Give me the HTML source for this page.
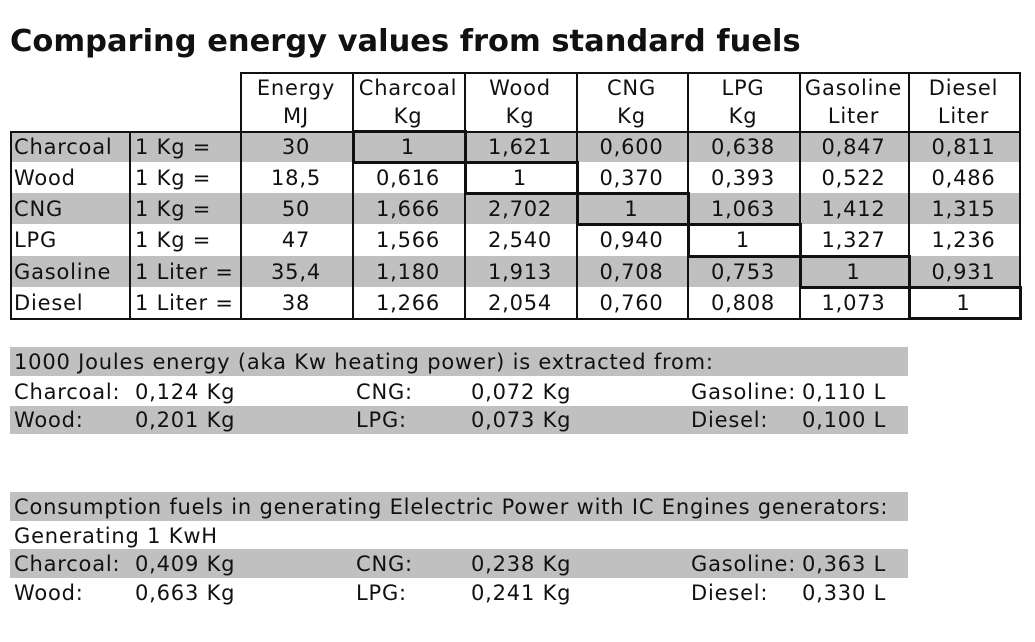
<!DOCTYPE html>
<html><head><meta charset="utf-8"><style>
body{margin:0;width:1035px;height:642px;background:#fff;position:relative;overflow:hidden;font-family:"DejaVu Sans","Liberation Sans",sans-serif;color:#111}
.a{position:absolute;box-sizing:border-box}
.t{position:absolute;font-size:21px;line-height:21px;letter-spacing:0.8px;white-space:nowrap}
.g{background:#c0c0c0}
.c{text-align:center}
</style></head><body>
<div class="t" style="left:10px;top:26px;font-size:30.5px;line-height:32px;letter-spacing:0;font-weight:bold">Comparing energy values from standard fuels</div>
<div id="tbl"></div>
<div class="a g" style="left:10px;top:347px;width:898px;height:29px"></div>
<div class="a g" style="left:10px;top:406px;width:898px;height:28px"></div>
<div class="t" style="left:14px;top:352px">1000 Joules energy (aka Kw heating power) is extracted from:</div>
<div class="t" style="left:14px;top:382px">Charcoal:</div><div class="t" style="left:135px;top:382px">0,124 Kg</div>
<div class="t" style="left:356px;top:382px">CNG:</div><div class="t" style="left:471px;top:382px">0,072 Kg</div>
<div class="t" style="left:691px;top:382px">Gasoline:</div><div class="t" style="left:802px;top:382px">0,110 L</div>
<div class="t" style="left:14px;top:410px">Wood:</div><div class="t" style="left:135px;top:410px">0,201 Kg</div>
<div class="t" style="left:356px;top:410px">LPG:</div><div class="t" style="left:471px;top:410px">0,073 Kg</div>
<div class="t" style="left:691px;top:410px">Diesel:</div><div class="t" style="left:802px;top:410px">0,100 L</div>
<div class="a g" style="left:10px;top:492px;width:898px;height:29px"></div>
<div class="a g" style="left:10px;top:549px;width:898px;height:29px"></div>
<div class="t" style="left:14px;top:497px">Consumption fuels in generating Elelectric Power with IC Engines generators:</div>
<div class="t" style="left:14px;top:526px">Generating 1 KwH</div>
<div class="t" style="left:14px;top:554px">Charcoal:</div><div class="t" style="left:135px;top:554px">0,409 Kg</div>
<div class="t" style="left:356px;top:554px">CNG:</div><div class="t" style="left:471px;top:554px">0,238 Kg</div>
<div class="t" style="left:691px;top:554px">Gasoline:</div><div class="t" style="left:802px;top:554px">0,363 L</div>
<div class="t" style="left:14px;top:583px">Wood:</div><div class="t" style="left:135px;top:583px">0,663 Kg</div>
<div class="t" style="left:356px;top:583px">LPG:</div><div class="t" style="left:471px;top:583px">0,241 Kg</div>
<div class="t" style="left:691px;top:583px">Diesel:</div><div class="t" style="left:802px;top:583px">0,330 L</div>
<script>
(function(){
var X=[10,129,240,352,464,576,687,799,908,1019];
var Y=[131,162,193,224,256,287,318];
var heads=[["Energy","MJ"],["Charcoal","Kg"],["Wood","Kg"],["CNG","Kg"],["LPG","Kg"],["Gasoline","Liter"],["Diesel","Liter"]];
var rows=[["Charcoal","1 Kg =","30","1","1,621","0,600","0,638","0,847","0,811"],
["Wood","1 Kg =","18,5","0,616","1","0,370","0,393","0,522","0,486"],
["CNG","1 Kg =","50","1,666","2,702","1","1,063","1,412","1,315"],
["LPG","1 Kg =","47","1,566","2,540","0,940","1","1,327","1,236"],
["Gasoline","1 Liter =","35,4","1,180","1,913","0,708","0,753","1","0,931"],
["Diesel","1 Liter =","38","1,266","2,054","0,760","0,808","1,073","1"]];
var h="";
for(var r=0;r<6;r++){if(r%2==0)h+='<div class="a g" style="left:10px;top:'+Y[r]+'px;width:1009px;height:'+(Y[r+1]-Y[r])+'px"></div>';}
h+='<div class="a" style="left:240px;top:72px;width:781px;height:61px;border:2px solid #111;border-bottom:none"></div>';
h+='<div class="a" style="left:10px;top:131px;width:1011px;height:189px;border:2px solid #111"></div>';
h+='<div class="a" style="left:240px;top:131px;width:781px;height:2px;background:#111"></div>';
for(var i=1;i<9;i++){var tp=i>=2?72:131;h+='<div class="a" style="left:'+X[i]+'px;top:'+tp+'px;width:2px;height:'+(320-tp)+'px;background:#111"></div>';}
for(var c=0;c<7;c++){var l=X[c+2],w=X[c+3]-X[c+2];
h+='<div class="t c" style="left:'+l+'px;width:'+w+'px;top:78px">'+heads[c][0]+'</div>';
h+='<div class="t c" style="left:'+l+'px;width:'+w+'px;top:106px">'+heads[c][1]+'</div>';}
for(var r=0;r<6;r++){var ty=Y[r]+6;
h+='<div class="t" style="left:14px;top:'+ty+'px">'+rows[r][0]+'</div>';
h+='<div class="t" style="left:135px;top:'+ty+'px">'+rows[r][1]+'</div>';
for(var c=0;c<7;c++){var l=X[c+2],w=X[c+3]-X[c+2];
h+='<div class="t c" style="left:'+l+'px;width:'+w+'px;top:'+ty+'px">'+rows[r][c+2]+'</div>';}
var bl=X[r+3],bw=X[r+4]-X[r+3]+3;
h+='<div class="a" style="left:'+bl+'px;top:'+(Y[r]-1)+'px;width:'+bw+'px;height:'+(Y[r+1]-Y[r]+3)+'px;border:3px solid #111"></div>';}
document.getElementById("tbl").innerHTML=h;
})();
</script>
</body></html>
